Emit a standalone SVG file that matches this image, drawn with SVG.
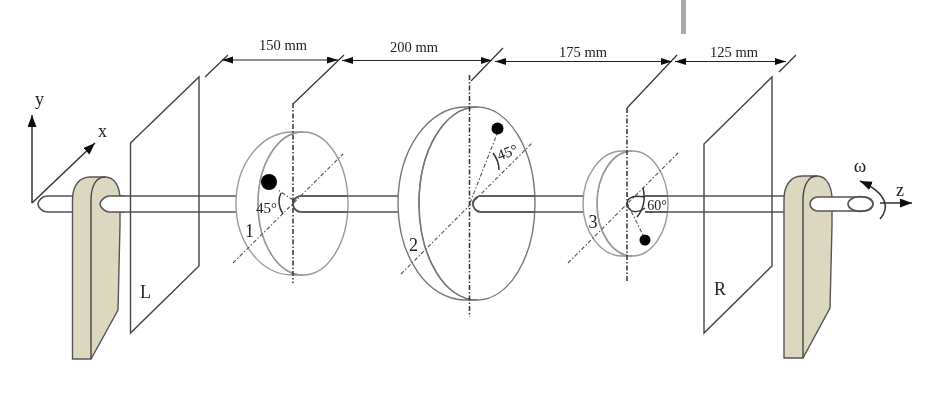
<svg xmlns="http://www.w3.org/2000/svg" width="948" height="417" viewBox="0 0 948 417">
<defs>
<style>
text{font-family:"Liberation Serif","Times New Roman",serif;fill:#222}
.dim{font-size:14.500px;text-anchor:middle}
.lab{font-size:18px}
.ang{font-size:15px;text-anchor:middle}
.ln{fill:none;stroke:#444;stroke-width:1.400}
.sh{fill:none;stroke:#555;stroke-width:1.600}
.ext{fill:none;stroke:#333;stroke-width:1.200}
.ax{fill:none;stroke:#333;stroke-width:1.500;stroke-dasharray:5 2 1.500 2}
.dg{fill:none;stroke:#555;stroke-width:1.100;stroke-dasharray:4 2 1.500 2}
.dsk{fill:#fff;stroke:#999;stroke-width:1.400}
.sup{fill:#dcd8c0;stroke:#555;stroke-width:1.400}
.ar{fill:none;stroke:#333;stroke-width:1.500}
.thin{fill:none;stroke:#222;stroke-width:1.200}
</style>
<marker id="a" markerWidth="12" markerHeight="8" refX="11" refY="3.500" orient="auto-start-reverse" markerUnits="userSpaceOnUse"><path d="M0,0L11,3.500L0,7Z" fill="#111"/></marker>
<marker id="b" markerWidth="13" markerHeight="10" refX="12" refY="4.500" orient="auto" markerUnits="userSpaceOnUse"><path d="M0,0L12,4.500L0,9Z" fill="#111"/></marker>
<filter id="soft" filterUnits="userSpaceOnUse" x="0" y="0" width="948" height="417"><feGaussianBlur stdDeviation="0.450"/></filter>
</defs>
<rect width="948" height="417" fill="#fff"/>
<g filter="url(#soft)">
<rect id="bar" x="681" y="0" width="5" height="34" fill="#aaa"/>
<g id="coordinate-axes">
<path class="ar" d="M32,203V115" marker-end="url(#b)"/>
<path class="ar" d="M32,203L95,143" marker-end="url(#b)"/>
<text class="lab" x="35" y="105">y</text>
<text class="lab" x="98" y="137">x</text>
</g>
<g id="shaft">
<path class="sh" d="M72,196H47C42,196 38,201 38,204C38,207 42,212 47,212H72"/>
<path class="sh" d="M236,196H109C105,196 100,201 100,204C100,207 105,212 109,212H236"/>
<path class="sh" d="M398,196H301A8,8 0 0 0 301,212H398"/>
<path class="sh" d="M583,196H481A8,8 0 0 0 481,212H583"/>
<path class="sh" d="M645,196H785M645,212H785"/>
</g>
<g id="disc-1">
<path class="dsk" d="M293,132H303C278,132 258,164 258,203.500C258,243 278,275 303,275H293C261,275 236,243 236,203.500C236,164 261,132 293,132Z"/>
<path class="dsk" style="fill:none" d="M303,132C328,132 348,164 348,203.500C348,243 328,275 303,275C278,275 258,243 258,203.500C258,164 278,132 303,132Z"/>
<path class="sh" d="M348,196H301A8,8 0 0 0 301,212H348"/>
<path class="ax" d="M293,103V283"/>
<path class="dg" d="M233,263L343,154"/>
<path class="dg" d="M293,200L278,190"/>
<circle cx="269" cy="182" r="8" fill="#000"/>
<path class="ar" d="M281,193Q276,203 283,214"/>
<text class="ang" x="266.500" y="213">45°</text>
<text class="lab" x="245" y="237">1</text>
</g>
<g id="disc-2">
<path class="dsk" d="M465,107H477C445,107 419,150 419,203.500C419,257 445,300 477,300H465C428,300 398,257 398,203.500C398,150 428,107 465,107Z" style="stroke:#777"/>
<path class="dsk" style="stroke:#777;fill:none" d="M477,107C509,107 535,150 535,203.500C535,257 509,300 477,300C445,300 419,257 419,203.500C419,150 445,107 477,107Z"/>
<path class="sh" d="M535,196H481A8,8 0 0 0 481,212H535"/>
<path class="ax" d="M469.500,75V317"/>
<path class="dg" d="M401,274L533,142"/>
<path class="dg" d="M470,203L497,134"/>
<circle cx="497.500" cy="128.500" r="6" fill="#000"/>
<path class="ar" d="M493,153Q499,161 499,170"/>
<text class="ang" transform="translate(509,157) rotate(-20)">45°</text>
<text class="lab" x="409" y="251">2</text>
</g>
<g id="disc-3">
<path class="dsk" d="M622,151H632C612,151 597,175 597,203.500C597,232 612,256 632,256H622C601,256 583,232 583,203.500C583,175 601,151 622,151Z"/>
<path class="dsk" style="fill:none" d="M632.500,151C652,151 668,175 668,203.500C668,232 652,256 632.500,256C613,256 597,232 597,203.500C597,175 613,151 632.500,151Z"/>
<path class="sh" d="M668,196H645M668,212H645"/>
<path class="ax" d="M627,108V283"/>
<path class="dg" d="M568,263L678,153"/>
<path class="dg" d="M627,203L643,235"/>
<circle cx="645" cy="240" r="5.500" fill="#000"/>
<path class="ar" d="M643,188Q647,205 637,217"/>
<path class="ar" d="M645,197C630,194 625,200 628,207C632,214 640,212 645,208"/>
<text class="ang" x="657" y="210" style="font-size:14px">60°</text>
<text class="lab" x="588.500" y="228">3</text>
</g>
<g id="plane-L">
<path class="ln" d="M130.500,143L199,77V266L130.500,333Z"/>
<text class="lab" x="140" y="298">L</text>
</g>
<g id="plane-R">
<path class="ln" d="M704,144L772,77V266L704,333Z"/>
<text class="lab" x="714" y="295">R</text>
</g>
<g id="support-left">
<path class="sup" d="M72.500,359V200C72.500,186 79,177 90,177H105C115,177 120,187 120,200V225L118,310L91,359Z"/>
<path class="ln" d="M91,359V200C91,186 96,177 105,177"/>
<path fill="#fff" stroke="#555" stroke-width="1.600" d="M125,196H109C105,196 100,201 100,204C100,207 105,212 109,212H125"/>
<path stroke="#fff" stroke-width="14" d="M119,204H126"/>
</g>
<g id="support-right">
<path class="sup" d="M784,358V200C784,186 790,176 802,176H817C827,176 832,187 832,200V225L830,308L803,358Z"/>
<path class="ln" d="M803,358V200C803,186 808,176 817,176"/>
</g>
<g id="shaft-end">
<path class="sh" style="fill:#fff" d="M873,204C873,208 869,211 864,211H818A8,7 0 0 1 818,197H864C869,197 873,200 873,204Z"/>
<ellipse cx="860.500" cy="204" rx="12.500" ry="7.500" fill="none" stroke="#555" stroke-width="1.600"/>
<path class="ar" d="M880,219C889,209 889,194 860,181" marker-end="url(#b)"/>
<path class="ar" d="M880,203H912" marker-end="url(#b)"/>
<text x="860" y="172" style="font-size:19px;text-anchor:middle">ω</text>
<text class="lab" x="896" y="196">z</text>
</g>
<g id="dimensions">
<path class="ext" d="M205,77L228,55M293,104L344,55M471,81L503,48M627,108L677,55M779,72L796,55"/>
<path class="thin" d="M222,60H338" marker-start="url(#a)" marker-end="url(#a)"/>
<path class="thin" d="M342,60.500H492" marker-start="url(#a)" marker-end="url(#a)"/>
<path class="thin" d="M495,61.500H672" marker-start="url(#a)" marker-end="url(#a)"/>
<path class="thin" d="M675,61.500H786" marker-start="url(#a)" marker-end="url(#a)"/>
<text class="dim" x="283" y="50">150 mm</text>
<text class="dim" x="414" y="52">200 mm</text>
<text class="dim" x="583" y="57">175 mm</text>
<text class="dim" x="734" y="57">125 mm</text>
</g>
</g>
</svg>
